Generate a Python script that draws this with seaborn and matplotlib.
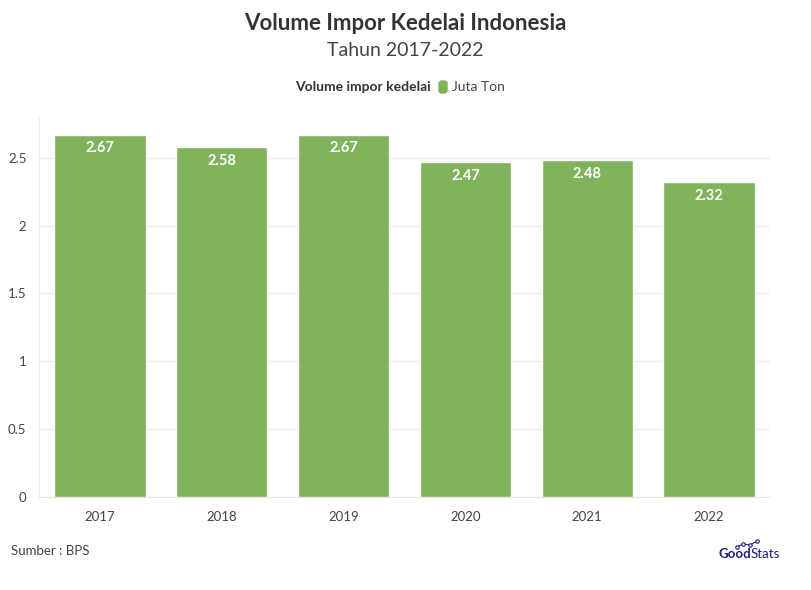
import matplotlib
matplotlib.use("Agg")
import matplotlib.pyplot as plt
import seaborn as sns
import pandas as pd

# data
years = ["2017", "2018", "2019", "2020", "2021", "2022"]
volume = [2.67, 2.58, 2.67, 2.47, 2.48, 2.32]
yticks = [0, 0.5, 1, 1.5, 2, 2.5]
ytick_labels = ["0", "0.5", "1", "1.5", "2", "2.5"]

bar_color = "#80b35b"
text_color = "#444444"
logo_color = "#1c1f7a"

sns.set_style("white")
plt.rcParams["font.family"] = ["Lato", "DejaVu Sans"]

df = pd.DataFrame({"year": years, "volume": volume})

fig = plt.figure(figsize=(8.11, 5.90), dpi=100)
ax = fig.add_axes([39 / 811, 1 - 497 / 590, 731 / 811, 380 / 590])

sns.barplot(data=df, x="year", y="volume", color=bar_color, width=0.75,
            saturation=1, ax=ax, zorder=3)

for i, v in enumerate(volume):
    ax.text(i, v - 0.05, f"{v:.2f}", ha="center", va="top", color="white",
            fontsize=10.5, fontweight="bold", zorder=4)

ax.set_ylim(0, 2.8)
ax.set_xlim(-0.5, len(years) - 0.5)
ax.set_yticks(yticks)
ax.set_yticklabels(ytick_labels)
ax.grid(axis="y", color="#eeeeee", linewidth=1, zorder=0)
ax.set_xlabel("")
ax.set_ylabel("")
ax.tick_params(axis="y", length=6, color="#e6e6e6", labelsize=9.5,
               labelcolor=text_color, pad=3)
ax.tick_params(axis="x", length=0, labelsize=9.5, labelcolor=text_color, pad=10)
for side in ["top", "right"]:
    ax.spines[side].set_visible(False)
ax.spines["left"].set_color("#eeeeee")
ax.spines["bottom"].set_color("#e6e6e6")

# titles and legend
fig.text(0.5, 1 - 24 / 590, "Volume Impor Kedelai Indonesia", ha="center",
         va="center", fontsize=16, fontweight="bold", color="#333333")
fig.text(0.5, 1 - 50 / 590, "Tahun 2017-2022", ha="center", va="center",
         fontsize=14, color="#444444")
fig.text(431 / 811, 1 - 87 / 590, "Volume impor kedelai", ha="right",
         va="center", fontsize=10, fontweight="bold", color="#333333")
fig.patches.append(matplotlib.patches.FancyBboxPatch(
    (439 / 811, 1 - 93 / 590), 8 / 811, 12 / 590,
    boxstyle="round,pad=0,rounding_size=0.004", transform=fig.transFigure,
    color=bar_color, figure=fig))
fig.text(452 / 811, 1 - 87 / 590, "Juta Ton", ha="left", va="center",
         fontsize=10, color=text_color)

# footer
fig.text(11 / 811, 1 - 551 / 590, "Sumber : BPS", ha="left", va="center",
         fontsize=9.5, color=text_color)
fig.text(751 / 811, 1 - 554 / 590, "Good", ha="right", va="center",
         fontsize=9.5, fontweight="bold", color=logo_color)
fig.text(751 / 811, 1 - 554 / 590, "Stats", ha="left", va="center",
         fontsize=9.5, color=logo_color)
logo_x = [737 / 811, 743 / 811, 750 / 811, 757 / 811]
logo_y = [1 - 547 / 590, 1 - 544 / 590, 1 - 545 / 590, 1 - 541 / 590]
fig.lines.append(matplotlib.lines.Line2D(
    logo_x, logo_y, transform=fig.transFigure, color=logo_color, lw=0.8,
    marker="o", markersize=2.5, markerfacecolor="white",
    markeredgewidth=0.8, figure=fig))

fig.savefig("out.png", dpi=100)
